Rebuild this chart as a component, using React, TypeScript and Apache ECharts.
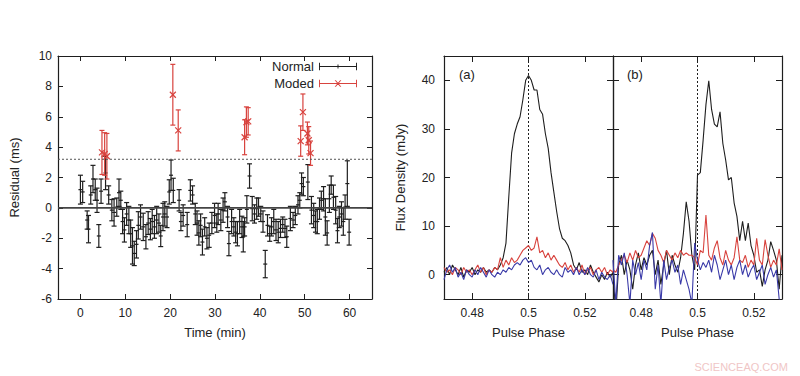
import React, { useEffect, useRef } from 'react';
import * as echarts from 'echarts';

// ---------- Left panel: timing residuals ----------
// [time (min), residual (ms), error (ms)]
const normalPoints: number[][] = [
  [0.0, 1.2, 0.95], [0.5, 1.05, 0.7], [1.5, -0.8, 0.6], [1.8, -1.4, 0.9], [2.3, 0.85, 0.6],
  [2.8, 1.9, 0.9], [3.3, 1.2, 0.7], [3.7, 0.5, 0.8], [4.1, -1.85, 0.75], [4.6, 1.1, 0.8],
  [5.6, 2.3, 1.1], [6.3, 0.85, 0.6], [7.0, -0.15, 0.7], [7.5, -0.3, 0.9], [8.1, 0.05, 0.6],
  [8.6, 1.0, 0.9], [9.0, 0.5, 0.6], [9.4, -0.9, 0.8], [9.8, -1.45, 0.8], [10.3, -0.4, 0.75],
  [10.8, -0.8, 0.9], [11.2, -1.7, 0.9], [11.6, -2.5, 1.2], [12.0, -3.0, 0.8], [12.5, -2.4, 0.9],
  [12.9, -1.15, 0.9], [13.4, -0.6, 0.8], [14.0, -1.25, 0.9], [14.6, -1.9, 0.8], [15.1, -1.0, 0.75],
  [15.6, -1.4, 0.7], [16.0, -0.9, 0.8], [16.5, -1.25, 0.75], [17.0, -0.8, 0.9], [17.5, -1.0, 0.6],
  [17.9, -1.85, 0.7], [18.4, -0.6, 0.9], [18.8, -0.4, 0.8], [19.3, -0.6, 0.7], [19.8, 1.05, 0.8],
  [20.2, 2.15, 1.0], [20.7, 1.15, 0.8], [22.0, 0.5, 0.7], [22.4, -0.9, 0.6], [22.9, -0.5, 0.7],
  [23.8, -1.1, 0.8], [24.5, 1.15, 0.7], [25.0, 0.85, 0.6], [25.6, -0.4, 0.7], [26.0, -1.0, 0.8],
  [26.4, -1.65, 0.8], [26.8, -1.15, 0.75], [27.2, -2.25, 0.85], [27.7, -1.25, 0.6], [28.2, -2.0, 0.7],
  [28.7, -1.8, 0.8], [29.3, -1.0, 0.7], [29.9, -0.5, 0.8], [30.4, -1.0, 0.6], [30.7, -0.4, 0.7],
  [31.3, -0.8, 0.7], [31.8, -0.15, 0.8], [32.2, 0.4, 0.6], [32.8, -0.6, 0.7], [33.1, -2.35, 0.8],
  [33.7, -0.9, 0.8], [34.2, -1.25, 0.6], [34.6, -1.6, 0.7], [35.0, -1.7, 0.8], [35.5, -0.9, 0.8],
  [36.0, -1.25, 0.7], [36.3, -1.9, 1.0], [36.6, -1.25, 0.6], [37.1, -0.1, 0.9], [37.7, 2.1, 0.8],
  [38.3, -0.05, 0.8], [38.8, -0.4, 0.6], [39.3, -0.05, 0.7], [39.7, 0.05, 0.6], [40.2, -0.4, 0.5],
  [40.7, -0.9, 0.7], [41.2, -3.7, 0.9], [41.7, -1.15, 0.7], [42.2, -1.7, 0.5], [42.6, -1.25, 0.6],
  [43.1, -0.9, 0.8], [43.6, -1.45, 0.7], [44.1, -1.6, 0.7], [44.6, -1.35, 0.6], [45.1, -1.1, 0.5],
  [45.6, -1.35, 0.6], [46.0, -1.9, 0.7], [46.8, -0.7, 0.8], [47.4, -0.8, 0.5], [47.9, -0.5, 0.6],
  [48.5, 0.2, 0.6], [48.9, 0.5, 0.5], [49.3, 1.6, 0.7], [49.7, 1.4, 0.6], [50.7, 1.7, 1.15],
  [51.5, -0.15, 0.9], [52.0, -0.5, 0.8], [52.4, -0.9, 0.7], [52.8, -0.9, 0.8], [53.3, -0.05, 0.7],
  [53.7, 0.5, 0.6], [54.2, 0.6, 0.8], [54.6, -0.6, 1.2], [55.0, -1.65, 0.8], [55.5, 0.6, 0.9],
  [55.9, 1.5, 0.6], [56.4, 0.7, 0.8], [56.9, -0.15, 0.9], [57.3, -1.5, 0.8], [57.7, -0.6, 0.7],
  [58.2, -0.4, 0.8], [58.6, -0.9, 0.9], [59.0, 0.05, 0.8], [59.5, 1.6, 1.5], [59.9, -1.6, 0.85],
];

const modedPoints: number[][] = [
  [4.8, 3.65, 1.45], [5.4, 3.55, 1.4], [5.9, 3.4, 1.5],
  [20.6, 7.45, 2.0], [21.8, 5.1, 1.35],
  [36.6, 4.65, 1.15], [37.0, 5.65, 1.0], [37.4, 5.7, 0.9],
  [49.1, 4.4, 1.0], [49.6, 6.3, 1.2], [50.6, 4.9, 0.75], [50.9, 4.45, 0.9], [51.3, 3.6, 0.8],
];

const thresholdResidual = 3.2;
const timeTicks = [0, 10, 20, 30, 40, 50, 60];
const residualTicks = [-6, -4, -2, 0, 2, 4, 6, 8, 10];

// ---------- Right panels: pulse profiles ----------
const phaseStart = 0.47;
const phaseStep = 0.001;
const phaseTicks = [0.48, 0.5, 0.52];
const fluxTicks = [0, 10, 20, 30, 40];
const phaseMarker = 0.5;

// panel (a)
const aBlack = [
  0.5, 1.5, 0, 2, 1, 0, 1.5, -0.5, 1, 0.5,
  1.5, 0, 1, 0.5, 1.5, 0.5, 1, 0.5, 1.5, 1,
  2, 3.5, 6.5, 16, 25, 29, 31, 32.5, 36, 40,
  41, 40, 38, 38, 34, 33, 29, 26, 21, 17,
  13, 9.5, 7.5, 7, 6, 4.5, 2, 1, 2.5, 0.5,
  1, 0, 2, 0.5, -0.5, -1.5, 0, -1, 0.5, -0.5,
  0.5,
];
const aRed = [
  1.5, 0.5, 1, 0, 1.5, 1, 0, 1.5, 0.5, 1,
  0, 1, 2, 0.5, 1.5, 0, 1, 0.5, 1.5, 1,
  3.5, 1.5, 3, 2, 3.5, 2.5, 3, 4, 5, 5.5,
  6, 5, 5.5, 7.8, 4.5, 5, 3.5, 4.5, 3, 4,
  3, 2, 1.5, 2.5, 1, 2, 0.5, 1.5, 0.5, 2,
  0, 1, 1.5, 0, 1, 1.5, 0.5, 1.5, 0, 1,
  0.5,
];
const aBlue = [
  -1, 1, 2, 0.5, 1.5, -0.5, 0.5, -1, 1, 0,
  -0.5, 1, 0, 1.5, 0.5, -0.5, 1, 0, -0.5, 0.5,
  0, 1, 0.5, 1.5, 1, 2, 2.5, 2, 3, 3.5,
  2.5, 3, 1.5, 1, 2, 0, 1, 1.5, 0.5, 0,
  1, 0, -0.5, 1.5, 0.5, 1, 0, 1.5, 0, 1,
  0, 1.5, 0, -0.5, 1, -1, 0.5, -0.5, -1, 0,
  -2,
];

// panel (b)
const bBlack = [
  0.3, -8, 2, 4, 0, 3, 1, -3, 2, 4.5,
  1, 3.5, 2, 4, 5, 0, 3, -2, 2, 5,
  0, 4, 2, 0.5, 3.5, 8.5, 15, 11, 4, 1,
  20.5, 21, 27.7, 35, 39.9, 34, 31, 30.4, 33.5, 27,
  23.6, 19.5, 20, 14.8, 12, 7, 11, 7, 10.6, 6,
  4, 0.5, 1, -2.4, 1, 3, 6.8, 5, 3, -3,
  4,
];
const bRed = [
  1, 0.5, 2, 3, 4, 2.5, 4.5, 3, 5, 3.5,
  4, 5.5, 7, 6, 8.5, 7.5, 5, 4, 2.5, 5,
  4, 3, 4.5, 3.5, 5, 4, 4.5, 4, 4, 3.5,
  2, 5, 4.5, 12.3, 4, 3, 5.5, 7, 3.5, 2,
  5, 3, 2, 3.5, 7.8, 3, 2.5, 4, 1.5, 3,
  2, 7.5, 3, 2, 7.2, 4, 1.5, 3, 2, 5.3,
  1,
];
const bBlue = [
  3, -6, 4, 2, 4.5, 0, -6, 3, 0, 2.5,
  -1, 3, 1, 6, 8.7, -3, 2, -6, 3, -1,
  1.5, 3, 0.5, 2, -2, 1, -1, -3, -6, 6.5,
  3, 1, 2.5, 1.5, 3, 0.5, 4, 2, -1, 1,
  3, 0, 2, -1, 1.5, 3, 0, 2, -0.5, 1,
  2, -1, 0.5, 2, -2, 0, 1.5, -0.5, 1, -5,
  -6,
];

const FONT = 'Liberation Sans, Arial, Helvetica, sans-serif';
const TXT = '#222';
const BLACK = '#1e1e1e';
const RED = '#d8433e';
const BLUE = '#3a3aa8';

function profile(vals: number[]) {
  return vals.map((v, i) => [+(phaseStart + i * phaseStep).toFixed(4), v]);
}

function errorBarRender(kind: 'normal' | 'moded', color: string) {
  return (_params: any, api: any) => {
    const x = api.value(0);
    const y = api.value(1);
    const e = api.value(2);
    const lo = api.coord([x, y - e]);
    const hi = api.coord([x, y + e]);
    const c = api.coord([x, y]);
    const cap = 2.5;
    const style = { stroke: color, lineWidth: 1.2, fill: null };
    const children: any[] = [
      { type: 'line', shape: { x1: c[0], y1: lo[1], x2: c[0], y2: hi[1] }, style },
      { type: 'line', shape: { x1: c[0] - cap, y1: lo[1], x2: c[0] + cap, y2: lo[1] }, style },
      { type: 'line', shape: { x1: c[0] - cap, y1: hi[1], x2: c[0] + cap, y2: hi[1] }, style },
    ];
    if (kind === 'normal') {
      children.push({ type: 'line', shape: { x1: c[0] - 2, y1: c[1], x2: c[0] + 2, y2: c[1] }, style });
    } else {
      const s = 3;
      children.push({ type: 'line', shape: { x1: c[0] - s, y1: c[1] - s, x2: c[0] + s, y2: c[1] + s }, style });
      children.push({ type: 'line', shape: { x1: c[0] - s, y1: c[1] + s, x2: c[0] + s, y2: c[1] - s }, style });
    }
    return { type: 'group', children };
  };
}

const ICON_NORMAL =
  'path://M0,4.5L40,4.5L40,5.5L0,5.5Z M0,1L1,1L1,9L0,9Z M39,1L40,1L40,9L39,9Z M19.5,3L20.5,3L20.5,7L19.5,7Z';
const ICON_MODED =
  'path://M0,4.5L40,4.5L40,5.5L0,5.5Z M0,1L1,1L1,9L0,9Z M39,1L40,1L40,9L39,9Z M16.5,1.5L17.8,1.5L23.5,8.5L22.2,8.5Z M22.2,1.5L23.5,1.5L17.8,8.5L16.5,8.5Z';

function xAx(grid: number, pos: 'bottom' | 'top', min: number, max: number, ticks: number[], name?: string, tickLen = 5): any {
  const bottom = pos === 'bottom';
  return {
    type: 'value',
    gridIndex: grid,
    position: pos,
    min,
    max,
    axisLine: { show: true, onZero: false, lineStyle: { color: BLACK, width: 1.2 } },
    axisTick: { show: true, inside: true, length: tickLen, customValues: ticks, lineStyle: { color: BLACK } },
    axisLabel: {
      show: bottom,
      customValues: ticks,
      color: TXT,
      fontSize: 12,
      fontFamily: FONT,
      margin: 8,
    },
    splitLine: { show: false },
    name: bottom ? name : undefined,
    nameLocation: 'middle',
    nameGap: 27,
    nameTextStyle: { color: TXT, fontSize: 13, fontFamily: FONT },
  };
}

function yAx(grid: number, pos: 'left' | 'right', min: number, max: number, ticks: number[], showLabel: boolean, name?: string, tickLen = 5, labelMargin = 6): any {
  return {
    type: 'value',
    gridIndex: grid,
    position: pos,
    min,
    max,
    axisLine: { show: true, onZero: false, lineStyle: { color: BLACK, width: 1.2 } },
    axisTick: { show: true, inside: true, length: tickLen, customValues: ticks, lineStyle: { color: BLACK } },
    axisLabel: {
      show: showLabel,
      customValues: ticks,
      color: TXT,
      fontSize: 12,
      fontFamily: FONT,
      margin: labelMargin,
    },
    splitLine: { show: false },
    name: name,
    nameLocation: 'middle',
    nameGap: 37,
    nameRotate: 90,
    nameTextStyle: { color: TXT, fontSize: 13, fontFamily: FONT },
  };
}

export default function App() {
  const ref = useRef<HTMLDivElement>(null);
  useEffect(() => {
    if (!ref.current) return;
    const chart = echarts.init(ref.current, undefined, { renderer: 'svg' });
    const lineBase = { type: 'line', showSymbol: false, symbol: 'none', silent: true, animation: false, clip: true };
    chart.setOption({
      animation: false,
      backgroundColor: '#fff',
      textStyle: { fontFamily: FONT },
      grid: [
        { left: 58, top: 56, width: 314, height: 243 },
        { left: 444, top: 56, width: 169, height: 243 },
        { left: 613, top: 56, width: 169, height: 243 },
      ],
      xAxis: [
        xAx(0, 'bottom', -5, 65, timeTicks, 'Time (min)'),
        xAx(0, 'top', -5, 65, timeTicks),
        xAx(1, 'bottom', 0.47, 0.53, phaseTicks, 'Pulse Phase', 6),
        xAx(1, 'top', 0.47, 0.53, phaseTicks, undefined, 6),
        xAx(2, 'bottom', 0.47, 0.53, phaseTicks, 'Pulse Phase', 6),
        xAx(2, 'top', 0.47, 0.53, phaseTicks, undefined, 6),
      ],
      yAxis: [
        yAx(0, 'left', -6, 10, residualTicks, true, 'Residual (ms)', 5, 6),
        yAx(0, 'right', -6, 10, residualTicks, false),
        yAx(1, 'left', -5, 45, fluxTicks, true, 'Flux Density (mJy)', 6, 9),
        yAx(1, 'right', -5, 45, fluxTicks, false, undefined, 6),
        yAx(2, 'left', -5, 45, fluxTicks, false, undefined, 6),
        yAx(2, 'right', -5, 45, fluxTicks, false, undefined, 6),
      ],
      legend: {
        data: [
          { name: 'Normal', icon: ICON_NORMAL },
          { name: 'Moded', icon: ICON_MODED },
        ],
        orient: 'vertical',
        align: 'right',
        right: 443,
        top: 60,
        padding: 0,
        itemWidth: 38,
        itemHeight: 9,
        itemGap: 4,
        selectedMode: false,
        textStyle: { color: TXT, fontSize: 13, fontFamily: FONT },
      },
      graphic: [
        { type: 'text', left: 459, top: 68, style: { text: '(a)', fill: TXT, fontSize: 13, fontFamily: FONT } },
        { type: 'text', left: 627, top: 68, style: { text: '(b)', fill: TXT, fontSize: 13, fontFamily: FONT } },
        { type: 'text', right: 12, bottom: 4, style: { text: 'SCIENCEAQ.COM', fill: '#f0c6c6', fontSize: 11, fontFamily: FONT } },
      ],
      series: [
        {
          ...lineBase,
          xAxisIndex: 0,
          yAxisIndex: 0,
          data: [[-5, 0], [65, 0]],
          lineStyle: { color: '#444', width: 1.8 },
        },
        {
          ...lineBase,
          xAxisIndex: 0,
          yAxisIndex: 0,
          data: [[-5, thresholdResidual], [65, thresholdResidual]],
          lineStyle: { color: '#555', width: 1, type: [2, 2] },
        },
        {
          name: 'Normal',
          type: 'custom',
          xAxisIndex: 0,
          yAxisIndex: 0,
          data: normalPoints,
          encode: { x: 0, y: 1 },
          itemStyle: { color: BLACK },
          renderItem: errorBarRender('normal', BLACK),
          silent: true,
        },
        {
          name: 'Moded',
          type: 'custom',
          xAxisIndex: 0,
          yAxisIndex: 0,
          data: modedPoints,
          encode: { x: 0, y: 1 },
          itemStyle: { color: RED },
          renderItem: errorBarRender('moded', RED),
          silent: true,
        },
        // panel (a)
        { ...lineBase, xAxisIndex: 2, yAxisIndex: 2, data: [[phaseMarker, -5], [phaseMarker, 45]], lineStyle: { color: BLACK, width: 1, type: [2, 2] } },
        { ...lineBase, xAxisIndex: 2, yAxisIndex: 2, data: profile(aBlack), lineStyle: { color: BLACK, width: 1.1 } },
        { ...lineBase, xAxisIndex: 2, yAxisIndex: 2, data: profile(aRed), lineStyle: { color: RED, width: 1.1 } },
        { ...lineBase, xAxisIndex: 2, yAxisIndex: 2, data: profile(aBlue), lineStyle: { color: BLUE, width: 1.1 } },
        // panel (b)
        { ...lineBase, xAxisIndex: 4, yAxisIndex: 4, data: [[phaseMarker, -5], [phaseMarker, 45]], lineStyle: { color: BLACK, width: 1, type: [2, 2] } },
        { ...lineBase, xAxisIndex: 4, yAxisIndex: 4, data: profile(bBlack), lineStyle: { color: BLACK, width: 1.1 } },
        { ...lineBase, xAxisIndex: 4, yAxisIndex: 4, data: profile(bRed), lineStyle: { color: RED, width: 1.1 } },
        { ...lineBase, xAxisIndex: 4, yAxisIndex: 4, data: profile(bBlue), lineStyle: { color: BLUE, width: 1.1 } },
      ],
    });
    return () => chart.dispose();
  }, []);
  return (
    <div
      ref={ref}
      style={{ position: 'absolute', left: 0, top: 0, width: 800, height: 376, background: '#fff' }}
    />
  );
}
